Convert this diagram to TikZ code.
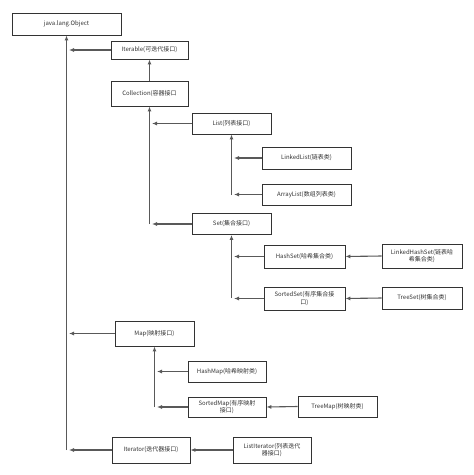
\documentclass[tikz,border=0pt]{standalone}
\usepackage{fontspec}
\setmainfont{Noto Sans CJK SC}
\usetikzlibrary{arrows.meta,calc}
\begin{document}
\begin{tikzpicture}[x=1pt,y=-1pt,
  box/.style={draw=black!80,line width=0.8pt,fill=white,inner sep=1pt,align=center,
    font=\fontsize{6}{7.5}\selectfont,text=black!80},
  conn/.style={draw=black!65,line width=1.1pt,-{Latex[length=5pt,width=4pt]}}]
\useasboundingbox[fill=white] (0,0) rectangle (474,475);
\node[box,minimum width=109pt,minimum height=22pt] (obj) at (66.5,24) {java.lang.Object};
\node[box,minimum width=77pt,minimum height=18pt] (iter) at (149.5,50) {Iterable(可迭代接口)};
\node[box,minimum width=77pt,minimum height=25pt] (coll) at (149.5,93.5) {Collection(容器接口};
\node[box,minimum width=79pt,minimum height=21pt] (list) at (231.5,123.5) {List(列表接口)};
\node[box,minimum width=89pt,minimum height=22pt] (llist) at (306.5,158) {LinkedList(链表类)};
\node[box,minimum width=89pt,minimum height=21pt] (alist) at (306.5,194.5) {ArrayList(数组列表类)};
\node[box,minimum width=79pt,minimum height=21pt] (set) at (231.5,224) {Set(集合接口)};
\node[box,minimum width=81pt,minimum height=23pt] (hset) at (304.5,256.5) {HashSet(哈希集合类)};
\node[box,minimum width=80pt,minimum height=24pt] (lhset) at (422,256) {LinkedHashSet(链表哈\\希集合类)};
\node[box,minimum width=81pt,minimum height=23pt] (sset) at (304.5,298.5) {SortedSet(有序集合接\\口)};
\node[box,minimum width=80pt,minimum height=22pt] (tset) at (422,298) {TreeSet(树集合类)};
\node[box,minimum width=79pt,minimum height=25pt] (map) at (154.5,333.5) {Map(映射接口)};
\node[box,minimum width=78pt,minimum height=21pt] (hmap) at (227,371.5) {HashMap(哈希映射类)};
\node[box,minimum width=78pt,minimum height=20pt] (smap) at (227,407) {SortedMap(有序映射\\接口)};
\node[box,minimum width=79pt,minimum height=21pt] (tmap) at (337.5,406.5) {TreeMap(树映射类)};
\node[box,minimum width=78pt,minimum height=26pt] (itr) at (151,450) {Iterator(迭代器接口)};
\node[box,minimum width=78pt,minimum height=26pt] (litr) at (272,450) {ListIterator(列表迭代\\器接口)};
% trunks
\coordinate (t0) at (66.5,450);
\coordinate (t1) at (149.5,224);
\coordinate (t2) at (231.5,195);
\coordinate (t3) at (231.5,298);
\coordinate (t4) at (154.5,407);
\draw[conn] (t0) -- (obj.south);
\draw[conn] (coll.north) -- (iter.south);
\draw[conn] (t1) -- (coll.south);
\draw[conn] (t2) -- (list.south);
\draw[conn] (t3) -- (set.south);
\draw[conn] (t4) -- (map.south);
% branches
\draw[conn] (iter.west) -- ($(t0|-iter.west)+(2.5,0)$);
\draw[conn] (map.west) -- ($(t0|-map.west)+(2.5,0)$);
\draw[conn] (itr.west) -- ($(t0|-itr.west)+(2.5,0)$);
\draw[conn] (list.west) -- ($(t1|-list.west)+(2.5,0)$);
\draw[conn] (set.west) -- ($(t1|-set.west)+(2.5,0)$);
\draw[conn] (llist.west) -- ($(t2|-llist.west)+(2.5,0)$);
\draw[conn] (alist.west) -- ($(t2|-alist.west)+(2.5,0)$);
\draw[conn] (hset.west) -- ($(t3|-hset.west)+(2.5,0)$);
\draw[conn] (sset.west) -- ($(t3|-sset.west)+(2.5,0)$);
\draw[conn] (lhset.west) -- (hset.east);
\draw[conn] (tset.west) -- (sset.east);
\draw[conn] (hmap.west) -- ($(t4|-hmap.west)+(2.5,0)$);
\draw[conn] (smap.west) -- ($(t4|-smap.west)+(2.5,0)$);
\draw[conn] (tmap.west) -- (smap.east);
\draw[conn] (litr.west) -- (itr.east);
\end{tikzpicture}
\end{document}
